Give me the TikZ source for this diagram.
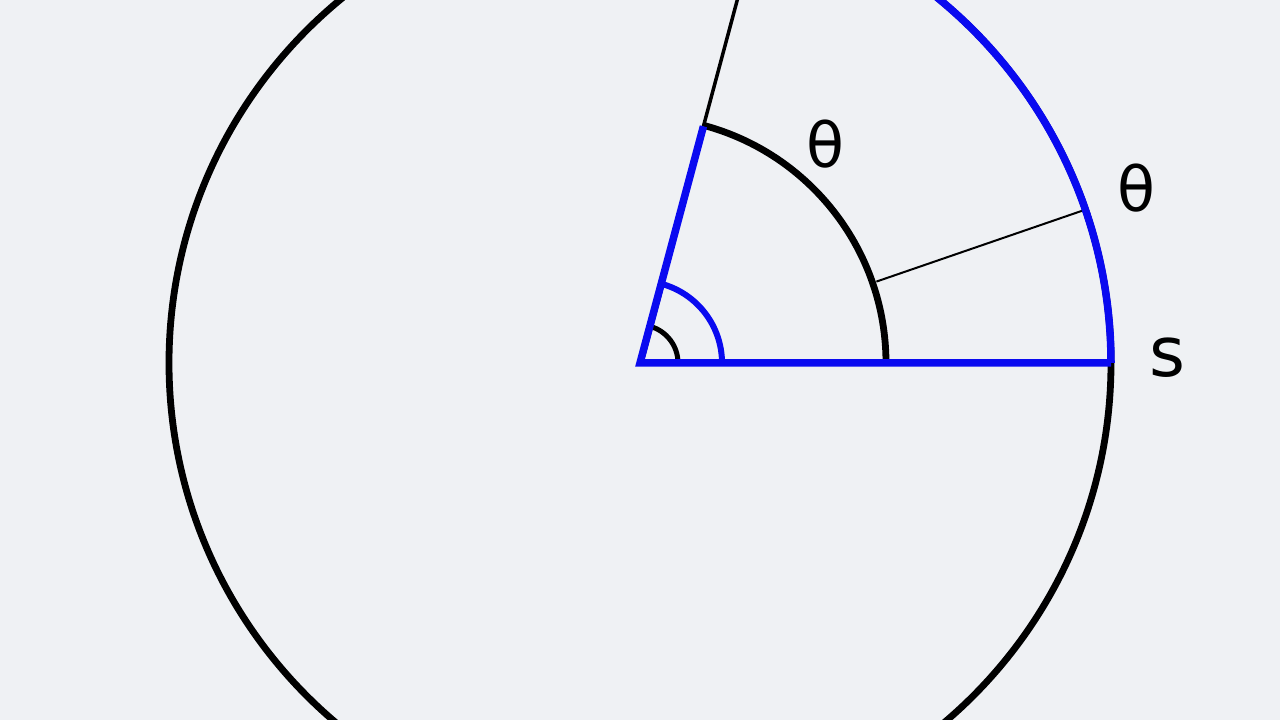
\documentclass[tikz,border=0pt]{standalone}
\usepackage{fontspec}
\setmainfont{DejaVu Sans}
\definecolor{bg}{RGB}{239,241,244}
\definecolor{arcblue}{RGB}{10,10,240}
\begin{document}
\begin{tikzpicture}[x=1pt,y=1pt,
  thickblack/.style={draw=black,line width=6.8pt},
  thickblue/.style={draw=arcblue,line width=7.5pt},
  thinblack/.style={draw=black,line width=2pt},
  lbl/.style={font=\fontsize{62}{70}\selectfont,inner sep=0pt},
  slbl/.style={font=\fontsize{69}{76}\selectfont,inner sep=0pt}]
\useasboundingbox (0,0) rectangle (1280,720);
\fill[bg] (0,0) rectangle (1280,720);
\clip (0,0) rectangle (1280,720);
\coordinate (O) at (640,357);
\begin{scope}[shift={(O)}]
  \coordinate (Top) at (75:480);
  \coordinate (J) at (75:245);
  \coordinate (S) at (0:471);
  \coordinate (A1) at (19:250);
  \coordinate (A2) at (19:471);
  % circle
  \draw[thickblack] (0,0) circle[radius=471];
  % thin ray continuation
  \draw[black,line width=3.5pt] (J) -- (Top);
  \draw[thinblack] (2.5,0) -- ++(75:80);
  % thin line at 19 deg
  \draw[thinblack] (A1) -- (A2);
  % big black arc
  \draw[thickblack] (246,0) arc[start angle=0,end angle=75,radius=246];
  % small black arc
  \draw[black,line width=5pt] (38,0) arc[start angle=0,end angle=75,radius=38];
  % small blue arc
  \draw[arcblue,line width=6pt] (82,0) arc[start angle=0,end angle=75,radius=82];
  % blue outer arc
  \draw[thickblue] (S) arc[start angle=0,end angle=80,radius=471];
  % blue radii
  \draw[thickblue,line join=miter] (J) -- (0,0) -- (S);
\end{scope}
\node[lbl] (t1) at (825.5,576) {θ};
\node[lbl] (t2) at (1136.5,531.5) {θ};
\node[slbl] (s) at (1167,362.5) {s};
\end{tikzpicture}
\end{document}
